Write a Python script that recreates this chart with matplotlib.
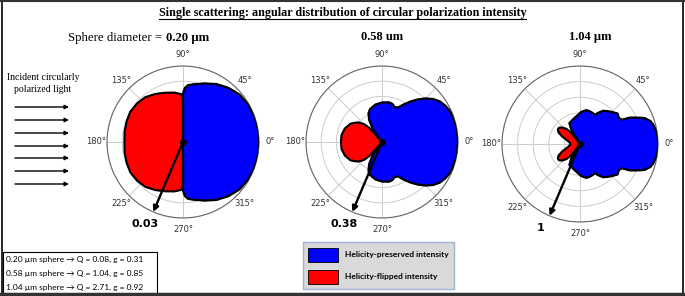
import numpy as np
import matplotlib.pyplot as plt
from matplotlib.patches import Rectangle, FancyArrowPatch
from matplotlib.lines import Line2D

# outer ring value of each polar plot (arrow labels)
r_max = [0.03, 0.38, 1]
r_max_labels = ["0.03", "0.38", "1"]
diam_labels = ["0.20 µm", "0.58 um", "1.04 µm"]

# upper half only (plots are mirror symmetric), radius as fraction of r_max
blue_ang_1 = [0, 10, 20, 30, 40, 50, 60, 70, 80, 85, 88, 90]
blue_r_1 = [1.0, 1.0, 1.0, 0.99, 0.97, 0.93, 0.88, 0.82, 0.77, 0.75, 0.71, 0.64]
red_ang_1 = [90, 92, 100, 110, 120, 130, 140, 150, 160, 170, 180]
red_r_1 = [0.55, 0.63, 0.66, 0.69, 0.73, 0.77, 0.79, 0.80, 0.79, 0.78, 0.77]

blue_ang_2 = [0, 10, 20, 25, 30, 35, 40, 45, 50, 55, 60, 65, 70, 75, 80, 90, 100, 110, 115, 120, 125, 129]
blue_r_2 = [1.0, 1.0, 0.99, 0.98, 0.96, 0.93, 0.88, 0.81, 0.73, 0.65, 0.57, 0.50, 0.49, 0.52, 0.53, 0.52, 0.50, 0.46, 0.42, 0.34, 0.22, 0.0]
red_ang_2 = [129, 132, 135, 140, 145, 150, 160, 170, 180]
red_r_2 = [0.0, 0.25, 0.33, 0.40, 0.44, 0.48, 0.52, 0.54, 0.54]

blue_ang_3 = [0, 5, 10, 15, 18, 22, 25, 28, 30, 34, 39, 45, 50, 55, 60, 63, 68, 75, 80, 88, 97, 105, 112, 117, 121, 125]
blue_r_3 = [1.0, 1.0, 0.99, 0.97, 0.95, 0.89, 0.80, 0.72, 0.62, 0.60, 0.62, 0.58, 0.55, 0.52, 0.46, 0.42, 0.43, 0.44, 0.44, 0.41, 0.36, 0.33, 0.31, 0.30, 0.22, 0.0]
red_ang_3 = [124, 128, 132, 137, 142, 147, 152, 157, 162, 168, 174, 180]
red_r_3 = [0.0, 0.19, 0.26, 0.31, 0.34, 0.34, 0.31, 0.25, 0.19, 0.15, 0.13, 0.12]

blue_sets = [(blue_ang_1, blue_r_1), (blue_ang_2, blue_r_2), (blue_ang_3, blue_r_3)]
red_sets = [(red_ang_1, red_r_1), (red_ang_2, red_r_2), (red_ang_3, red_r_3)]

box_lines = ["0.20 µm sphere → Q = 0.08, g = 0.31",
             "0.58 µm sphere → Q = 1.04, g = 0.85",
             "1.04 µm sphere → Q = 2.71, g = 0.92"]

W, H = 685, 296
fig = plt.figure(figsize=(W / 100, H / 100), dpi=100)


def fx(x):
    return x / W


def fy(y):
    return 1 - y / H


def mirror(ang, r):
    # upper half -> full closed outline through the origin
    ang = np.asarray(ang, float)
    r = np.asarray(r, float)
    a = np.concatenate([[ang[0]], ang, 360 - ang[::-1], [360 - ang[0]]])
    rr = np.concatenate([[0], r, r[::-1], [0]])
    return np.deg2rad(a), rr


# axes centres / radius in pixels
centres = [(183, 142, 76), (382, 142, 76), (580, 144, 78)]

for i, (cx, cy, R) in enumerate(centres):
    ax = fig.add_axes([fx(cx - R), fy(cy + R), 2 * R / W, 2 * R / H], projection='polar')
    rm = r_max[i]
    ba, br = blue_sets[i]
    ra, rr = red_sets[i]
    # blue: angles from -a..a
    a = np.concatenate([-np.asarray(ba[::-1], float), np.asarray(ba[1:], float)])
    r = np.concatenate([np.asarray(br[::-1], float), np.asarray(br[1:], float)]) * rm
    a = np.concatenate([[a[0]], a, [a[-1]]])
    r = np.concatenate([[0], r, [0]])
    ax.fill(np.deg2rad(a), r, color='#0000ff', zorder=2)
    ax.plot(np.deg2rad(a), r, color='k', lw=1.6, zorder=3)
    ta, tr = mirror(ra, rr)
    ax.fill(ta, tr * rm, color='#ff0000', zorder=2)
    ax.plot(ta, tr * rm, color='k', lw=1.5, zorder=3)
    ax.plot([0], [0], 'ko', ms=4, zorder=5)

    ax.set_ylim(0, rm)
    ax.set_yticks(np.array([0.2, 0.4, 0.6, 0.8, 1.0]) * rm)
    ax.set_yticklabels([])
    ax.set_xticks(np.deg2rad(np.arange(0, 360, 45)))
    ax.set_xticklabels(['0°', '45°', '90°', '135°', '180°', '225°', '270°', '315°'],
                       fontsize=6, color='#333333')
    ax.tick_params(axis='x', pad=-2.5)
    ax.grid(color='#cccccc', lw=0.7)
    ax.spines['polar'].set_color('#666666')
    ax.spines['polar'].set_linewidth(0.8)
    ax.set_axisbelow(True)

    ax.annotate('', xy=(np.deg2rad(247), rm), xytext=(0, 0),
                arrowprops=dict(arrowstyle='-|>', color='k', lw=1.7, mutation_scale=8,
                                shrinkA=0, shrinkB=0), zorder=6, annotation_clip=False)
    ax.text(np.deg2rad(245), rm * 1.19, r_max_labels[i], fontsize=8, fontweight='bold',
            ha='center', va='center', clip_on=False)

# title with underline
serif = 'Liberation Serif'
t = fig.text(0.5, fy(13), "Single scattering: angular distribution of circular polarization intensity",
             family=serif, fontsize=8.7, fontweight='bold', ha='center', va='center')
fig.canvas.draw()
bb = t.get_window_extent(fig.canvas.get_renderer())
fig.add_artist(Line2D([bb.x0 / W, bb.x1 / W], [fy(18.5), fy(18.5)], color='k', lw=0.8))

fig.text(fx(165), fy(38), "Sphere diameter = ", family=serif, fontsize=9.2, ha='right', va='center')
fig.text(fx(166), fy(38), diam_labels[0], family=serif, fontsize=9.2, fontweight='bold', ha='left', va='center')
fig.text(fx(382), fy(37), diam_labels[1], family=serif, fontsize=9, fontweight='bold', ha='center', va='center')
fig.text(fx(590), fy(37), diam_labels[2], family=serif, fontsize=9, fontweight='bold', ha='center', va='center')

# incident light
fig.text(fx(43), fy(77), "Incident circularly", family=serif, fontsize=7, ha='center', va='center')
fig.text(fx(43), fy(89), "polarized light", family=serif, fontsize=7, ha='center', va='center')
arrow_y = [107, 120, 133, 146, 158, 171, 184]
for y in arrow_y:
    fig.add_artist(FancyArrowPatch((fx(15), fy(y)), (fx(69), fy(y)), transform=fig.transFigure,
                                   arrowstyle='-|>', mutation_scale=6, lw=1, color='k',
                                   shrinkA=0, shrinkB=0))

# Q / g box
fig.add_artist(Rectangle((fx(3), fy(294)), fx(154), 42 / H, transform=fig.transFigure,
                         facecolor='white', edgecolor='k', lw=0.8))
for j, s in enumerate(box_lines):
    fig.text(fx(6), fy(259 + 14 * j), s, family=['Lato', 'DejaVu Sans'], fontsize=6,
             ha='left', va='center')

# legend box
fig.add_artist(Rectangle((fx(303), fy(289)), fx(151), 47 / H, transform=fig.transFigure,
                         facecolor='#d9d9d9', edgecolor='#9db3d6', lw=1))
fig.add_artist(Rectangle((fx(308), fy(262)), fx(30), 14 / H, transform=fig.transFigure,
                         facecolor='#0000ff', edgecolor='k', lw=0.6))
fig.add_artist(Rectangle((fx(308), fy(284)), fx(30), 14 / H, transform=fig.transFigure,
                         facecolor='#ff0000', edgecolor='k', lw=0.6))
fig.text(fx(345), fy(255), "Helicity-preserved intensity", family=['Lato', 'DejaVu Sans'],
         fontsize=6, fontweight='bold', ha='left', va='center')
fig.text(fx(345), fy(277), "Helicity-flipped intensity", family=['Lato', 'DejaVu Sans'],
         fontsize=6, fontweight='bold', ha='left', va='center')

# outer frame
fig.add_artist(Line2D([fx(2), fx(2)], [fy(0), fy(294)], color='k', lw=1.2))
fig.add_artist(Line2D([fx(683), fx(683)], [fy(0), fy(294)], color='k', lw=1.2))
fig.add_artist(Line2D([fx(0), fx(685)], [fy(0.5), fy(0.5)], color='#333333', lw=1.5))
fig.add_artist(Line2D([fx(0), fx(685)], [fy(294), fy(294)], color='#333333', lw=2.5))

fig.savefig('out.png', dpi=100)
